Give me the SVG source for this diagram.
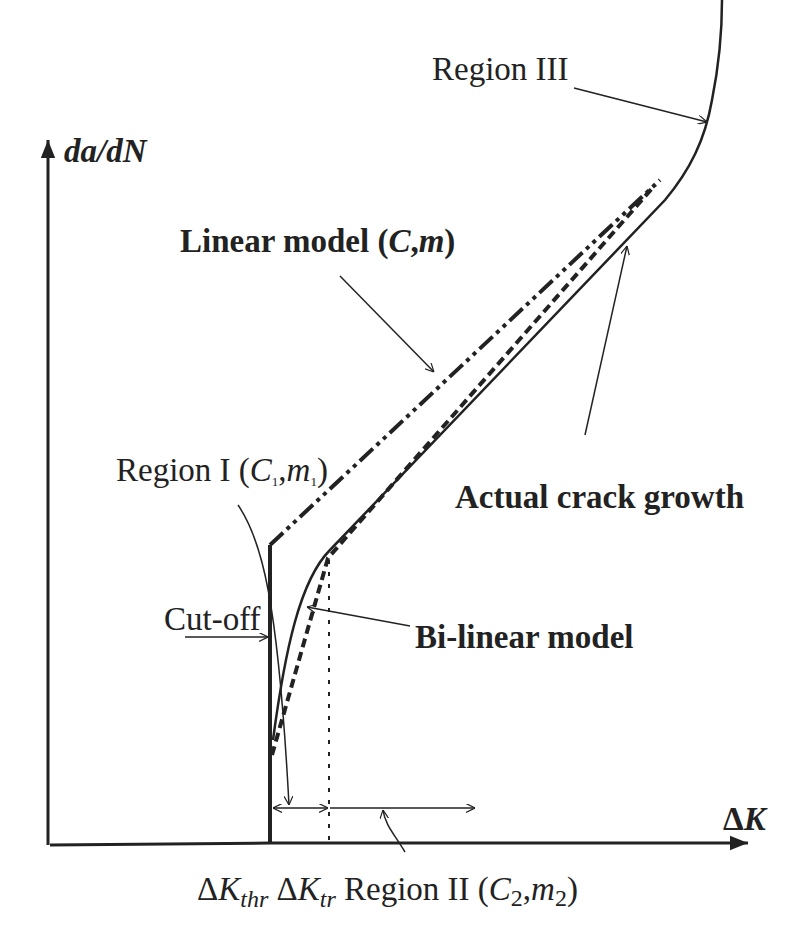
<svg xmlns="http://www.w3.org/2000/svg" width="795" height="931" viewBox="0 0 795 931">
<style>
text{font-family:"Liberation Serif",serif;font-size:33px;fill:#222}
.b{font-weight:bold}
.ln{fill:none;stroke:#222}
</style>
<defs>
<marker id="a" viewBox="0 0 10 10" refX="10" refY="5" markerWidth="9" markerHeight="9" orient="auto-start-reverse" markerUnits="userSpaceOnUse"><path d="M0,0L10,5L0,10" fill="none" stroke="#222" stroke-width="1.3"/></marker>
<marker id="ax" viewBox="0 0 10 10" refX="10" refY="5" markerWidth="18" markerHeight="18" orient="auto" markerUnits="userSpaceOnUse"><path d="M0,1L10,5L0,9z" fill="#222"/></marker>
</defs>
<rect width="795" height="931" fill="#fff"/>
<g id="axes">
<path class="ln" stroke-width="3" d="M50,845 L270,843 L748,843" marker-end="url(#ax)"/>
<path class="ln" stroke-width="3" d="M48,845 L48,140" marker-end="url(#ax)"/>
</g>
<g id="curves">
<path id="cutoff" class="ln" stroke-width="4" d="M270,843 L270,545"/>
<path id="linear" class="ln" stroke-width="4" stroke-dasharray="18,5,4,5,4,5" d="M270,545 L660,180"/>
<path id="actual" class="ln" stroke-width="2.5" d="M273,740 C285,650 300,580 330,550 L665,200 C690,170 705,140 712,100 C720,60 722,30 722,0"/>
<path id="bilinear" class="ln" stroke-width="4" stroke-dasharray="9,5" d="M272,755 L328,558 L655,185"/>
<path id="dotted" class="ln" stroke-width="2" stroke-dasharray="4,8" d="M329,560 L329,843"/>
</g>
<g id="connectors" stroke-width="1.5">
<path class="ln" d="M238,505 C262,540 278,600 289,805" marker-end="url(#a)"/>
<path class="ln" d="M273,808 L328,808" marker-start="url(#a)" marker-end="url(#a)"/>
<path class="ln" d="M330,808 L475,808" marker-end="url(#a)"/>
<path class="ln" d="M405,852 C395,835 385,825 383,810" marker-end="url(#a)"/>
<path class="ln" d="M574,88 L707,122" marker-end="url(#a)"/>
<path class="ln" d="M340,276 L434,372" marker-end="url(#a)"/>
<path class="ln" d="M585,435 L627,246" marker-end="url(#a)"/>
<path class="ln" d="M185,637 L268,637" marker-end="url(#a)"/>
<path class="ln" d="M410,626 L307,607" marker-end="url(#a)"/>
</g>
<g id="labels">
<text x="432" y="80">Region III</text>
<text x="64" y="162" class="b" font-style="italic">da/dN</text>
<text x="180" y="252" class="b">Linear model (<tspan font-style="italic">C</tspan>,<tspan font-style="italic">m</tspan>)</text>
<text x="455" y="508" class="b">Actual crack growth</text>
<text x="116" y="481" font-size="26">Region I (<tspan font-style="italic">C</tspan><tspan font-size="13" dy="5">1</tspan><tspan dy="-5">,</tspan><tspan font-style="italic">m</tspan><tspan font-size="13" dy="5">1</tspan><tspan dy="-5">)</tspan></text>
<text x="164" y="630">Cut-off</text>
<text x="415" y="648" class="b">Bi-linear model</text>
<text x="723" y="830" class="b">Δ<tspan font-style="italic">K</tspan></text>
<text x="197" y="900">Δ<tspan font-style="italic">K</tspan><tspan font-size="24" font-style="italic" dy="7">thr</tspan><tspan dy="-7"> Δ</tspan><tspan font-style="italic">K</tspan><tspan font-size="24" font-style="italic" dy="7">tr</tspan><tspan dy="-7"> Region II (</tspan><tspan font-style="italic">C</tspan><tspan font-size="24" dy="6">2</tspan><tspan dy="-6">,</tspan><tspan font-style="italic">m</tspan><tspan font-size="24" dy="6">2</tspan><tspan dy="-6">)</tspan></text>
</g>
</svg>
